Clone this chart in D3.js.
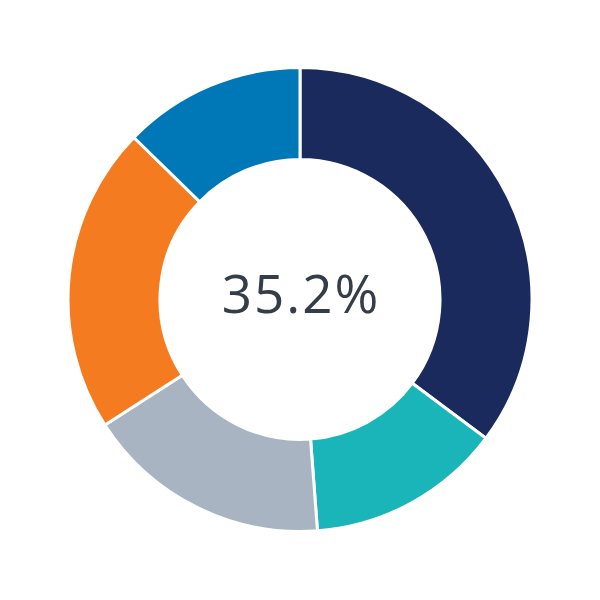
<!DOCTYPE html>
<html><head><meta charset="utf-8">
<script src="https://cdn.jsdelivr.net/npm/d3@7"></script>
<style>body{margin:0;background:#fff}</style>
</head><body>
<svg id="c" width="600" height="600"></svg>
<script>
const categories = ["A","B","C","D","E"];
const values = [35.2, 13.6, 17.1, 21.4, 12.7];
const colors = ["#1b2a5c", "#1ab5b8", "#a9b4c2", "#f47b20", "#0077b6"];
const centerLabel = "35.2%";

const svg = d3.select("#c");
const g = svg.append("g").attr("transform", "translate(300,299.5)");
const pie = d3.pie().sort(null).value(d => d.v);
const arc = d3.arc().innerRadius(140).outerRadius(232);
const data = categories.map((c, i) => ({c, v: values[i], col: colors[i]}));
g.selectAll("path").data(pie(data)).join("path")
  .attr("d", arc).attr("fill", d => d.data.col)
  .attr("stroke", "#fff").attr("stroke-width", 3);
g.append("text").attr("text-anchor", "middle").attr("y", 13.5).attr("x", 1)
  .attr("font-family", "'Open Sans', sans-serif").attr("font-size", 53)
  .attr("letter-spacing", 2)
  .attr("fill", "#343d48").text(centerLabel);
</script>
</body></html>
